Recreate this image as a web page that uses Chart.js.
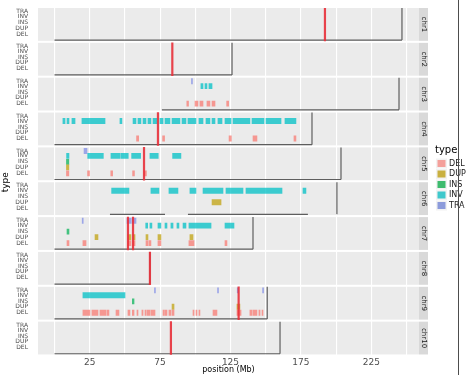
<!DOCTYPE html>
<html><head><meta charset="utf-8">
<script src="https://cdn.jsdelivr.net/npm/chart.js@4/dist/chart.umd.min.js"></script>
<style>html,body{margin:0;padding:0;background:#fff}#wrap{width:474px;height:375px;position:relative}</style>
</head><body><div id="wrap"><canvas id="c" width="474" height="375"></canvas></div>
<script>
// ---------- data ----------
const panelNames = ['chr1','chr2','chr3','chr4','chr5','chr6','chr7','chr8','chr9','chr10'];
const typeNames = ['DEL','DUP','INS','INV','TRA'];
const typeColors = ['rgba(248,118,109,0.72)','rgba(196,168,30,0.8)','rgba(0,178,85,0.72)','rgba(0,192,198,0.75)','rgba(105,120,230,0.6)'];
const keyColors = ['#F4A09B','#C9B040','#3DBB6E','#3FC8CC','#8C9BDB'];
const xTickValues = [0,25,50,75,100,125,150,175,200,225,250];
const xTickLabels = ['','25','','75','','125','','175','','225',''];
const xTitle = 'position (Mb)';
const yTitle = 'type';
const legendTitle = 'type';

// track extent per panel: bottom segments [panel, start, end] and end marks
const trackSegments = [[1,0,246.8],[2,0,126.1],[3,76.3,244.7],[4,0,182.9],[5,0,203.5],[6,39.4,78.5],[6,94.8,180.0],[7,0,141.0],[8,0,67.8],[9,0,151.1],[10,0,160.2]];
const trackEnds = [246.8,126.1,244.7,182.9,203.5,200.6,141.0,67.8,151.1,160.2];
// full-height red markers [panel, position]
const redMarks = [[1,192.1],[2,83.7],[4,73.5],[5,63.6],[7,52.2],[7,55.8],[8,67.8],[9,130.8],[10,82.7]];

// events [panel, start, end]
const delEvents = [[3,94.0,95.2],[3,99.8,101.9],[3,103.3,105.5],[3,108.3,110.4],[3,111.9,114.0],[3,122.3,123.7],
 [4,58.3,59.8],[4,76.8,78.2],[4,124.0,125.6],[4,141.0,143.8],[4,170.1,171.5],
 [5,8.5,10.2],[5,23.5,24.9],[5,40.0,41.3],[5,55.5,56.8],[5,64.0,65.3],
 [7,8.9,10.3],[7,20.2,22.4],[7,52.2,54.3],[7,55.8,57.2],[7,65.0,66.4],[7,67.1,68.5],[7,73.5,75.6],[7,95.5,99.1],[7,121.1,122.5],
 [9,20.2,25.2],[9,26.6,30.9],[9,32.3,36.6],[9,37.3,38.7],[9,43.7,45.8],[9,52.2,53.6],[9,55.3,56.5],[9,58.6,59.3],[9,62.1,62.9],[9,64.3,65.0],[9,65.7,67.8],[9,68.5,71.4],[9,77.1,78.0],[9,78.5,79.9],[9,81.3,82.7],[9,83.5,84.9],[9,98.4,99.1],[9,100.5,101.2],[9,102.6,103.3],[9,112.6,115.4],[9,129.6,132.5],[9,138.8,140.3],[9,141.0,143.8],[9,145.2,146.0],[9,147.4,148.1]];
const dupEvents = [[5,8.5,10.2],[6,111.9,118.3],[7,28.8,30.9],[7,52.2,54.3],[7,55.8,57.2],[7,65.0,66.4],[7,73.5,75.6],[7,96.2,98.4],[9,83.5,84.9],[9,129.6,131.7]];
const insEvents = [[5,8.5,10.2],[7,8.9,10.3],[9,55.3,56.5]];
const invEvents = [[3,104.0,105.5],[3,106.9,108.3],[3,109.7,111.9],
 [4,6.0,7.5],[4,8.9,10.3],[4,12.4,14.6],[4,19.5,35.9],[4,46.5,47.9],[4,55.8,57.9],[4,59.3,61.4],[4,62.9,65.0],[4,66.4,68.5],[4,70.0,72.8],[4,74.9,77.1],[4,78.5,82.0],[4,83.5,89.1],[4,90.6,93.4],[4,94.8,100.5],[4,102.6,105.5],[4,107.6,110.4],[4,111.9,114.0],[4,116.1,119.0],[4,121.1,125.4],[4,126.8,138.8],[4,140.3,148.8],[4,150.2,160.9],[4,163.7,171.5],
 [5,8.6,10.3],[5,23.6,34.7],[5,40.1,46.3],[5,47.0,52.4],[5,54.8,61.2],[5,67.8,73.7],[5,83.9,89.8],
 [6,40.6,52.9],[6,68.5,74.2],[6,81.3,87.7],[6,96.2,100.5],[6,105.5,119.7],[6,121.8,133.9],[6,136.0,161.6],[6,176.5,178.6],
 [7,64.8,66.2],[7,67.8,69.2],[7,73.5,75.6],[7,78.5,79.9],[7,82.7,84.2],[7,87.0,88.4],[7,91.3,93.4],[7,95.5,111.2],[7,121.1,127.5],
 [9,20.2,50.1]];
const traEvents = [[3,97.3,98.0],[5,21.0,23.1],[7,19.7,20.4],[7,51.5,54.3],[7,55.0,57.9],[9,71.0,71.7],[9,115.8,116.5],[9,129.8,130.6],[9,147.8,148.5]];
const eventsByType = [delEvents,dupEvents,insEvents,invEvents,traEvents];

// ---------- layout helpers ----------
const SLOT = 6, GAP = 0.35;
const laneOffset = [4.47, 3.44, 2.5, 1.46, 0.62]; // DEL..TRA lanes inside a panel
const panelTop = p => (p-1)*SLOT;
const panelBottom = p => (p-1)*SLOT + SLOT - GAP;

const datasets = [];
datasets.push({
  type:'bar', indexAxis:'y', grouped:false, order:0,
  data: redMarks.map(([p,v]) => ({x:[v-0.55, v+0.55], y:(panelTop(p)+panelBottom(p))/2})),
  backgroundColor:'rgba(232,48,58,0.9)', barThickness:32.8, borderWidth:0, borderSkipped:false, minBarLength:1
});
const outlinePts = [];
trackSegments.forEach(([p,s,e]) => { const yb = panelBottom(p)-0.12; outlinePts.push({x:s,y:yb},{x:e,y:yb},{x:null,y:null}); });
trackEnds.forEach((e,i) => { const p=i+1; outlinePts.push({x:e,y:panelTop(p)},{x:e,y:panelBottom(p)-0.12},{x:null,y:null}); });
datasets.push({type:'line', order:1, data:outlinePts, borderColor:'#5E5E5E', borderWidth:1.2, pointRadius:0, spanGaps:false, fill:false, tension:0});
eventsByType.forEach((ev,t) => {
  datasets.push({
    type:'bar', indexAxis:'y', grouped:false, order:2+t, label:typeNames[t],
    data: ev.map(([p,s,e]) => ({x:[s,e], y:panelTop(p)+laneOffset[t]})),
    backgroundColor:typeColors[t], barThickness:5.2, borderWidth:0, borderSkipped:false, minBarLength:1
  });
});

const decor = {
  id:'decor',
  beforeDraw(chart){
    const {ctx, chartArea:a, scales:{y}} = chart;
    ctx.save();
    ctx.fillStyle='#fff'; ctx.fillRect(0,0,chart.width,chart.height);
    panelNames.forEach((n,i) => {
      const t = y.getPixelForValue(panelTop(i+1)), b = y.getPixelForValue(panelBottom(i+1));
      ctx.fillStyle='#EBEBEB'; ctx.fillRect(a.left, t, a.right-a.left, b-t);
      ctx.fillStyle='#D9D9D9'; ctx.fillRect(a.right, t, 9, b-t);
    });
    ctx.restore();
  },
  afterDraw(chart){
    const {ctx, chartArea:a, scales:{y}} = chart;
    ctx.save();
    ctx.fillStyle='#1A1A1A'; ctx.font='7px "DejaVu Sans", sans-serif';
    ctx.textAlign='center'; ctx.textBaseline='middle';
    panelNames.forEach((n,i) => {
      const c = (y.getPixelForValue(panelTop(i+1)) + y.getPixelForValue(panelBottom(i+1)))/2;
      ctx.save(); ctx.translate(a.right+4.5, c); ctx.rotate(Math.PI/2); ctx.fillText(n,0,0); ctx.restore();
    });
    ctx.textAlign='left'; ctx.textBaseline='middle';
    ctx.fillStyle='#000'; ctx.font='10px "DejaVu Sans", sans-serif';
    ctx.fillText(legendTitle, 435, 150);
    ctx.font='8px "DejaVu Sans", sans-serif';
    typeNames.forEach((n,i) => {
      const cy = 163.5 + i*10.5;
      ctx.fillStyle='#F2F2F2'; ctx.fillRect(436, cy-5, 11, 10);
      ctx.fillStyle=keyColors[i]; ctx.fillRect(437.5, cy-3.5, 8, 7);
      ctx.fillStyle='#1A1A1A'; ctx.fillText(n, 449, cy);
    });
    ctx.fillStyle='#4D4D4D'; ctx.fillRect(458,0,1,375);
    ctx.restore();
  }
};

new Chart(document.getElementById('c'), {
  type:'bar',
  data:{datasets},
  plugins:[decor],
  options:{
    responsive:false, animation:false, devicePixelRatio:1,
    layout:{padding:{top:8,right:55,left:0,bottom:0}},
    plugins:{legend:{display:false}, tooltip:{enabled:false}},
    scales:{
      x:{type:'linear', position:'bottom', min:-11.7, max:258.9, bounds:'data', offset:false,
        afterBuildTicks:s => { s.ticks = xTickValues.map(v => ({value:v})); },
        afterFit:s => { s.height = 18.5; },
        ticks:{autoSkip:false, maxRotation:0, padding:1, color:'#4D4D4D', font:{size:9, family:'"DejaVu Sans", sans-serif'},
          callback:(v,i) => xTickLabels[i]},
        grid:{color:'#FFFFFF', lineWidth:1.1, drawTicks:false, offset:false}, border:{display:false},
        title:{display:true, text:xTitle, color:'#000', font:{size:8, family:'"DejaVu Sans", sans-serif'}, padding:{top:0,bottom:0}}
      },
      y:{type:'linear', reverse:true, min:0, max:SLOT*panelNames.length, bounds:'data', offset:false,
        afterBuildTicks:s => { const t=[]; panelNames.forEach((n,i) => { for (let k=typeNames.length-1;k>=0;k--) t.push({value:panelTop(i+1)+laneOffset[k]}); }); s.ticks=t; },
        afterFit:s => { s.width = 38; },
        ticks:{autoSkip:false, padding:2, color:'#4D4D4D', font:{size:6, family:'"DejaVu Sans", sans-serif'},
          callback:(v,i) => typeNames[typeNames.length-1 - (i % typeNames.length)]},
        grid:{display:false, offset:false}, border:{display:false},
        title:{display:true, text:yTitle, color:'#000', font:{size:9, family:'"DejaVu Sans", sans-serif'}, padding:{top:0,bottom:1}}
      }
    }
  }
});
</script>
</body></html>
